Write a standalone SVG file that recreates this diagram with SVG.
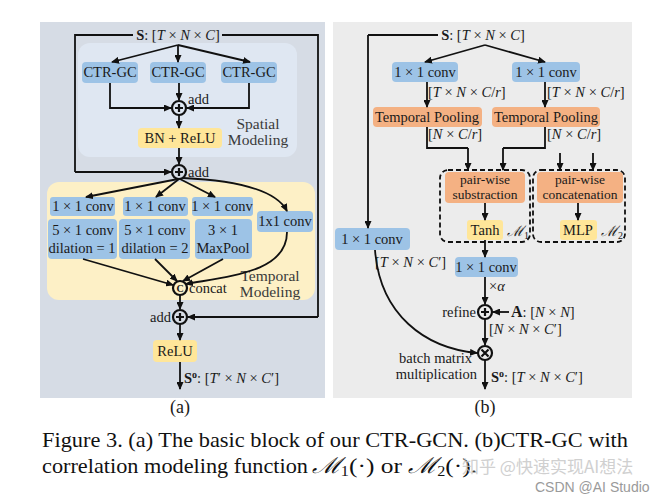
<svg xmlns="http://www.w3.org/2000/svg" width="663" height="500" viewBox="0 0 663 500">
<defs>
<marker id="ah" markerWidth="8" markerHeight="7" refX="7" refY="3.5" orient="auto" markerUnits="userSpaceOnUse">
<path d="M0,0 L8,3.5 L0,7 Z" fill="#111"/>
</marker>
<style>
.t{font-family:"Liberation Serif","Times New Roman",serif;font-size:14.5px;fill:#1a1a1a}
.c{text-anchor:middle}
.e{text-anchor:end}
.i{font-style:italic}
.b{font-weight:bold}
.g{fill:#3a3a3a;font-size:15.5px}
.s{font-size:13.5px}
.blue{fill:#9dc3e6}
.yel{fill:#ffe699}
.org{fill:#f4b183}
.ln{fill:none;stroke:#111;stroke-width:1.8}
.ar{fill:none;stroke:#111;stroke-width:1.8;marker-end:url(#ah)}
.op{fill:none;stroke:#111;stroke-width:2.2}
.dash{fill:none;stroke:#111;stroke-width:1.8;stroke-dasharray:5 3}
.cap{font-family:"Liberation Serif","Times New Roman",serif;font-size:22px;fill:#111}
</style>
</defs>
<rect width="663" height="500" fill="#ffffff"/>

<!-- panel backgrounds -->
<rect x="40" y="22" width="285" height="376" fill="#d6dce5"/>
<rect x="333" y="22" width="299" height="376" fill="#ececec"/>
<rect x="78" y="43" width="219" height="114" rx="12" fill="#dfe7f2"/>
<rect x="47" y="182" width="268" height="118" rx="12" fill="#fdf0c6"/>

<!-- ===== Panel (a) nodes ===== -->
<g id="a-input">
<text class="t c" x="178" y="40"><tspan class="b">S</tspan>: [<tspan class="i">T</tspan> × <tspan class="i">N</tspan> × <tspan class="i">C</tspan>]</text>
</g>
<g id="a-ctrgc1"><rect class="blue" x="82" y="62" width="56" height="21" rx="4"/><text class="t c" x="110" y="77">CTR-GC</text></g>
<g id="a-ctrgc2"><rect class="blue" x="150" y="62" width="56" height="21" rx="4"/><text class="t c" x="178" y="77">CTR-GC</text></g>
<g id="a-ctrgc3"><rect class="blue" x="221" y="62" width="56" height="21" rx="4"/><text class="t c" x="249" y="77">CTR-GC</text></g>
<g id="a-add1"><circle class="op" cx="179" cy="108" r="7"/><path class="op" d="M175,108 H183 M179,104 V112"/><text class="t" x="188" y="104">add</text></g>
<g id="a-bnrelu"><rect class="yel" x="138" y="128" width="84" height="20" rx="4"/><text class="t c" x="180" y="143">BN + ReLU</text></g>
<g id="a-spatial-label"><text class="t c g" x="258" y="129">Spatial</text><text class="t c g" x="258" y="145">Modeling</text></g>
<g id="a-add2"><circle class="op" cx="179" cy="172" r="7"/><path class="op" d="M175,172 H183 M179,168 V176"/><text class="t" x="188" y="177">add</text></g>

<g id="a-conv1"><rect class="blue" x="50" y="197" width="65" height="19" rx="3"/><text class="t c" x="83" y="211">1 × 1 conv</text></g>
<g id="a-conv2"><rect class="blue" x="123" y="197" width="65" height="19" rx="3"/><text class="t c" x="155" y="211">1 × 1 conv</text></g>
<g id="a-conv3"><rect class="blue" x="192" y="197" width="61" height="19" rx="3"/><text class="t c" x="222" y="211">1 × 1 conv</text></g>
<g id="a-conv4"><rect class="blue" x="257" y="211" width="56" height="21" rx="4"/><text class="t c" x="285" y="226">1x1 conv</text></g>
<g id="a-tc1"><rect class="blue" x="48" y="219" width="69" height="40" rx="4"/><text class="t c" x="83" y="235">5 × 1 conv</text><text class="t c" x="82" y="253">dilation = 1</text></g>
<g id="a-tc2"><rect class="blue" x="119" y="219" width="71" height="40" rx="4"/><text class="t c" x="155" y="235">5 × 1 conv</text><text class="t c" x="155" y="253">dilation = 2</text></g>
<g id="a-pool"><rect class="blue" x="195" y="219" width="57" height="40" rx="4"/><text class="t c" x="223" y="235">3 × 1</text><text class="t c" x="223" y="253">MaxPool</text></g>
<g id="a-concat"><circle class="op" cx="180" cy="288" r="7"/><text class="t c b" x="180" y="292" style="font-size:10px">C</text><text class="t" x="189" y="293">concat</text></g>
<g id="a-temporal-label"><text class="t c g" x="270" y="281">Temporal</text><text class="t c g" x="270" y="297">Modeling</text></g>
<g id="a-add3"><circle class="op" cx="180" cy="317" r="7"/><path class="op" d="M176,317 H184 M180,313 V321"/><text class="t e" x="171" y="322">add</text></g>
<g id="a-relu"><rect class="yel" x="153" y="340" width="44" height="22" rx="4"/><text class="t c" x="175" y="356">ReLU</text></g>
<g id="a-output"><text class="t" x="184" y="383"><tspan class="b">S</tspan><tspan class="b" dy="-5" style="font-size:10px">o</tspan><tspan dy="5">: [</tspan><tspan class="i">T</tspan>′ × <tspan class="i">N</tspan> × <tspan class="i">C</tspan>′]</text></g>

<!-- ===== Panel (b) nodes ===== -->
<g id="b-input"><text class="t c" x="483" y="40"><tspan class="b">S</tspan>: [<tspan class="i">T</tspan> × <tspan class="i">N</tspan> × <tspan class="i">C</tspan>]</text></g>
<g id="b-convA"><rect class="blue" x="392" y="62" width="66" height="20" rx="4"/><text class="t c" x="425" y="77">1 × 1 conv</text></g>
<g id="b-convB"><rect class="blue" x="512" y="62" width="68" height="20" rx="4"/><text class="t c" x="546" y="77">1 × 1 conv</text></g>
<g id="b-lblA"><text class="t" x="428" y="97">[<tspan class="i">T</tspan> × <tspan class="i">N</tspan> × <tspan class="i">C</tspan>/<tspan class="i">r</tspan>]</text></g>
<g id="b-lblB"><text class="t" x="547" y="97">[<tspan class="i">T</tspan> × <tspan class="i">N</tspan> × <tspan class="i">C</tspan>/<tspan class="i">r</tspan>]</text></g>
<g id="b-poolA"><rect class="org" x="373" y="107" width="109" height="20" rx="4"/><text class="t c" x="427" y="122">Temporal Pooling</text></g>
<g id="b-poolB"><rect class="org" x="492" y="107" width="108" height="20" rx="4"/><text class="t c" x="546" y="122">Temporal Pooling</text></g>
<g id="b-lblC"><text class="t" x="428" y="139">[<tspan class="i">N</tspan> × <tspan class="i">C</tspan>/<tspan class="i">r</tspan>]</text></g>
<g id="b-lblD"><text class="t" x="547" y="139">[<tspan class="i">N</tspan> × <tspan class="i">C</tspan>/<tspan class="i">r</tspan>]</text></g>
<g id="b-M1">
<rect class="dash" x="440" y="170" width="90" height="72" rx="8"/>
<rect class="org" x="445" y="172" width="80" height="31" rx="4"/>
<text class="t c s" x="485" y="184">pair-wise</text><text class="t c s" x="485" y="199">substraction</text>
<rect class="yel" x="467" y="220" width="36" height="20" rx="3"/><text class="t c" x="485" y="235">Tanh</text>
<text class="t i" x="507" y="236">ℳ<tspan style="font-size:10px;font-style:normal" dy="3">1</tspan></text>
</g>
<g id="b-M2">
<rect class="dash" x="533" y="170" width="92" height="72" rx="8"/>
<rect class="org" x="537" y="172" width="86" height="31" rx="4"/>
<text class="t c s" x="580" y="184">pair-wise</text><text class="t c s" x="580" y="199">concatenation</text>
<rect class="yel" x="560" y="220" width="37" height="20" rx="3"/><text class="t c" x="578" y="235">MLP</text>
<text class="t i" x="601" y="236">ℳ<tspan style="font-size:10px;font-style:normal" dy="3">2</tspan></text>
</g>
<g id="b-convL"><rect class="blue" x="335" y="228" width="75" height="22" rx="4"/><text class="t c" x="372" y="244">1 × 1 conv</text></g>
<g id="b-lblE"><text class="t" x="375" y="267">[<tspan class="i">T</tspan> × <tspan class="i">N</tspan> × <tspan class="i">C</tspan>′]</text></g>
<g id="b-convM"><rect class="blue" x="455" y="257" width="63" height="20" rx="4"/><text class="t c" x="486" y="272">1 × 1 conv</text></g>
<g id="b-alpha"><text class="t" x="489" y="291">×<tspan class="i">α</tspan></text></g>
<g id="b-refine"><circle class="op" cx="485" cy="312" r="7"/><path class="op" d="M481,312 H489 M485,308 V316"/><text class="t e" x="476" y="317">refine</text></g>
<g id="b-A"><text class="t" x="511" y="317"><tspan class="b" style="font-size:16px">A</tspan>: [<tspan class="i">N</tspan> × <tspan class="i">N</tspan>]</text></g>
<g id="b-lblF"><text class="t" x="489" y="334">[<tspan class="i">N</tspan> × <tspan class="i">N</tspan> × <tspan class="i">C</tspan>′]</text></g>
<g id="b-mul"><circle class="op" cx="485" cy="353" r="7"/><path class="op" d="M481.5,349.5 L488.5,356.5 M488.5,349.5 L481.5,356.5"/><text class="t e" x="472" y="363">batch matrix</text><text class="t e" x="477" y="379">multiplication</text></g>
<g id="b-output"><text class="t" x="491" y="382"><tspan class="b">S</tspan><tspan class="b" dy="-5" style="font-size:10px">o</tspan><tspan dy="5">: [</tspan><tspan class="i">T</tspan> × <tspan class="i">N</tspan> × <tspan class="i">C</tspan>′]</text></g>

<!-- ===== connectors ===== -->
<g id="connectors">
<!-- panel a -->
<path class="ln" d="M133,35 H75 V172"/>
<path class="ar" d="M75,172 H171"/>
<path class="ln" d="M222,35 H318 V317"/>
<path class="ar" d="M318,317 H188"/>
<path class="ar" d="M178,45 L112,62"/>
<path class="ar" d="M178,45 V62"/>
<path class="ar" d="M178,45 L250,62"/>
<path class="ar" d="M110,83 V108 H171"/>
<path class="ar" d="M179,83 V100"/>
<path class="ar" d="M249,83 V108 H187"/>
<path class="ar" d="M179,115 V128"/>
<path class="ar" d="M179,148 V164"/>
<path class="ar" d="M178,179 L86,197"/>
<path class="ar" d="M179,179 L156,197"/>
<path class="ar" d="M180,179 L215,197"/>
<path class="ar" d="M183,178 Q272,182 287,211"/>
<path class="ar" d="M83,259 L173,285"/>
<path class="ar" d="M155,259 L177,281"/>
<path class="ar" d="M223,259 L183,281"/>
<path class="ar" d="M287,232 C287,272 230,276 186,284"/>
<path class="ar" d="M180,295 V309"/>
<path class="ar" d="M180,324 V340"/>
<path class="ar" d="M180,362 V389"/>
<!-- panel b -->
<path class="ln" d="M438,35 H368"/>
<path class="ar" d="M368,35 V228"/>
<path class="ar" d="M485,45 L425,62"/>
<path class="ar" d="M485,45 L545,62"/>
<path class="ar" d="M427,82 V107"/>
<path class="ar" d="M545,82 V107"/>
<path class="ln" d="M427,127 V148 H468"/>
<path class="ar" d="M468,148 V170"/>
<path class="ln" d="M545,127 V148 H503"/>
<path class="ar" d="M503,148 V170"/>
<path class="ar" d="M560,153 V170"/>
<path class="ar" d="M593,153 V170"/>
<path class="ar" d="M485,203 V220"/>
<path class="ar" d="M578,203 V220"/>
<path class="ar" d="M485,240 V257"/>
<path class="ar" d="M485,277 V304"/>
<path class="ar" d="M509,312 H493"/>
<path class="ar" d="M485,319 V345"/>
<path class="ar" d="M375,250 C380,315 425,348 477,353"/>
<path class="ar" d="M485,360 V389"/>
</g>

<!-- sub-captions -->
<text class="t c" x="180" y="413" style="font-size:18px">(a)</text>
<text class="t c" x="485" y="413" style="font-size:18px">(b)</text>

<!-- figure caption -->
<text class="cap" x="42" y="447" textLength="586" lengthAdjust="spacingAndGlyphs">Figure 3. (a) The basic block of our CTR-GCN. (b)CTR-GC with</text>
<text class="cap" x="42" y="473" textLength="266" lengthAdjust="spacingAndGlyphs">correlation modeling function</text>
<text class="cap" x="312" y="473" textLength="165" lengthAdjust="spacingAndGlyphs"><tspan style="font-style:italic">ℳ</tspan><tspan style="font-size:14px" dy="3">1</tspan><tspan dy="-3">(·) or </tspan><tspan style="font-style:italic">ℳ</tspan><tspan style="font-size:14px" dy="3">2</tspan><tspan dy="-3">(·).</tspan></text>

<!-- watermarks -->
<text x="462" y="473" style="font-family:'Noto Sans CJK SC','Noto Sans',sans-serif;font-size:17px;fill:#c8c8c8;opacity:0.85">知乎 @快速实现AI想法</text>
<text x="535" y="492" style="font-family:'Liberation Sans',Arial,sans-serif;font-size:14px;fill:#9a9a9a">CSDN @AI Studio</text>
</svg>
